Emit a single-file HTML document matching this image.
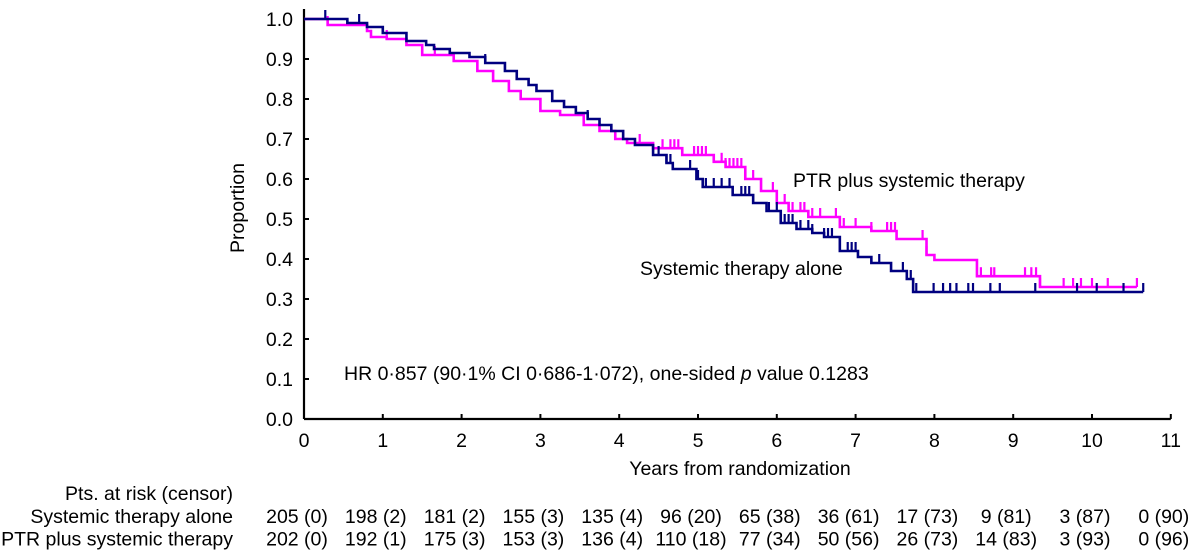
<!DOCTYPE html>
<html><head><meta charset="utf-8"><style>
body{margin:0;background:#fff;}
svg text{font-family:"Liberation Sans",sans-serif;font-size:19.5px;fill:#000;}
</style></head><body>
<svg width="1200" height="551">
<g id="axes"></g>
<g id="curves"></g>
<text x="793" y="187">PTR plus systemic therapy</text>
<text x="640" y="275">Systemic therapy alone</text>
<text x="344" y="380">HR 0·857 (90·1% CI 0·686-1·072), one-sided <tspan font-style="italic">p</tspan> value 0.1283</text>
<text x="740" y="475" text-anchor="middle">Years from randomization</text>
<text transform="translate(244,208) rotate(-90)" text-anchor="middle">Proportion</text>
<g id="risk"></g>
</svg>
<script>
const xTicks=[0,1,2,3,4,5,6,7,8,9,10,11];
const yTicks=[0,0.1,0.2,0.3,0.4,0.5,0.6,0.7,0.8,0.9,1.0];
const sysT=[0,0.55,0.8,1.0,1.3,1.55,1.65,1.85,2.1,2.3,2.55,2.7,2.85,2.95,3.15,3.3,3.45,3.6,3.75,3.9,4.05,4.2,4.43,4.6,4.68,4.98,5.06,5.44,5.7,5.87,6.05,6.25,6.45,6.6,6.8,7.03,7.2,7.45,7.65,7.73,10.65];
const sysS=[1.0,0.99,0.98,0.965,0.945,0.935,0.925,0.915,0.905,0.89,0.87,0.85,0.835,0.82,0.795,0.78,0.765,0.75,0.735,0.72,0.70,0.685,0.66,0.64,0.625,0.60,0.58,0.56,0.54,0.52,0.49,0.475,0.465,0.455,0.42,0.405,0.39,0.37,0.35,0.3175,0.3175];
const ptrT=[0,0.3,0.8,0.85,1.05,1.3,1.5,1.9,2.2,2.4,2.6,2.75,3.0,3.25,3.55,3.75,3.95,4.1,4.43,4.8,5.2,5.35,5.6,5.8,6.0,6.15,6.4,6.8,7.2,7.52,7.9,8.0,8.54,9.34,10.57];
const ptrS=[1.0,0.985,0.97,0.955,0.95,0.935,0.91,0.895,0.87,0.845,0.82,0.80,0.77,0.76,0.735,0.72,0.70,0.69,0.677,0.66,0.643,0.63,0.60,0.57,0.54,0.52,0.505,0.48,0.47,0.45,0.41,0.3975,0.357,0.33,0.33];
const sysCens=[0.27,0.7,2.3,3.6,4.5,4.6,4.65,4.9,5.0,5.1,5.2,5.3,5.4,5.55,5.6,5.65,5.9,6.0,6.05,6.1,6.15,6.2,6.3,6.4,6.45,6.6,6.65,6.7,6.9,6.95,7.0,7.3,7.6,7.7,7.77,7.99,8.11,8.2,8.28,8.43,8.49,8.71,8.83,9.28,9.81,10.06,10.4,10.65];
const ptrCens=[0.3,1.05,1.66,4.05,4.26,4.55,4.65,4.7,4.75,4.95,5.0,5.05,5.1,5.3,5.35,5.4,5.45,5.5,5.55,5.7,5.95,6.0,6.1,6.2,6.3,6.35,6.45,6.55,6.75,6.85,7.0,7.2,7.4,7.45,7.5,7.85,7.9,8.59,8.72,8.76,9.15,9.23,9.29,9.34,9.64,9.76,9.86,10.0,10.2,10.57];
const riskLabels=["Systemic therapy alone","PTR plus systemic therapy"];
const riskSys=["205 (0)","198 (2)","181 (2)","155 (3)","135 (4)","96 (20)","65 (38)","36 (61)","17 (73)","9 (81)","3 (87)","0 (90)"];
const riskPtr=["202 (0)","192 (1)","175 (3)","153 (3)","136 (4)","110 (18)","77 (34)","50 (56)","26 (73)","14 (83)","3 (93)","0 (96)"];
const NS="http://www.w3.org/2000/svg";
const X=t=>304+t*78.8, Y=s=>419-s*400;
function mk(tag,at,par){const e=document.createElementNS(NS,tag);for(const k in at)e.setAttribute(k,at[k]);par.appendChild(e);return e;}
const ax=document.getElementById('axes');
let a=mk('line',{x1:X(0),y1:Y(0),x2:X(11),y2:Y(0),stroke:'#000','stroke-width':2.2},ax);


a=mk('line',{x1:X(0),y1:Y(0),x2:X(0),y2:Y(1.0)-10,stroke:'#000','stroke-width':2.2},ax);


xTicks.forEach(t=>{mk('line',{x1:X(t),y1:Y(0),x2:X(t),y2:Y(0)-5,stroke:'#000','stroke-width':2},ax);
 const tx=mk('text',{x:X(t),y:447,'text-anchor':'middle'},ax);tx.textContent=t;
 
 });
yTicks.forEach(s=>{mk('line',{x1:X(0),y1:Y(s),x2:X(0)+5,y2:Y(s),stroke:'#000','stroke-width':2},ax);
 const tx=mk('text',{x:293,y:Y(s)+7,'text-anchor':'end'},ax);tx.textContent=s.toFixed(1);
 
 });
function curve(T,S,cens,col,name){
 const g=document.getElementById('curves');
 let d='M'+X(T[0])+','+Y(S[0]);
 for(let i=1;i<T.length;i++){d+=' H'+X(T[i])+' V'+Y(S[i]);}
 const p=mk('path',{d:d,fill:'none',stroke:col,'stroke-width':2.6},g);
 
 
 cens.forEach(c=>{let s=S[0];for(let i=0;i<T.length;i++){if(T[i]<=c)s=S[i];}
  const l=mk('line',{x1:X(c),y1:Y(s),x2:X(c),y2:Y(s)-9,stroke:col,'stroke-width':2.2},g);
  
  });
}
curve(ptrT,ptrS,ptrCens,'#ff00ff','ptr');
curve(sysT,sysS,sysCens,'#000080','systemic');
const rk=document.getElementById('risk');
let h=mk('text',{x:233,y:500,'text-anchor':'end'},rk);h.textContent='Pts. at risk (censor)';


[riskSys,riskPtr].forEach((row,r)=>{const yy=523+r*22.5;
 const l=mk('text',{x:233,y:yy,'text-anchor':'end'},rk);l.textContent=riskLabels[r];
 
 
 row.forEach((v,i)=>{const c=mk('text',{x:X(xTicks[i])-7,y:yy,'text-anchor':'middle'},rk);c.textContent=v;
  
  });});
</script>
</body></html>
